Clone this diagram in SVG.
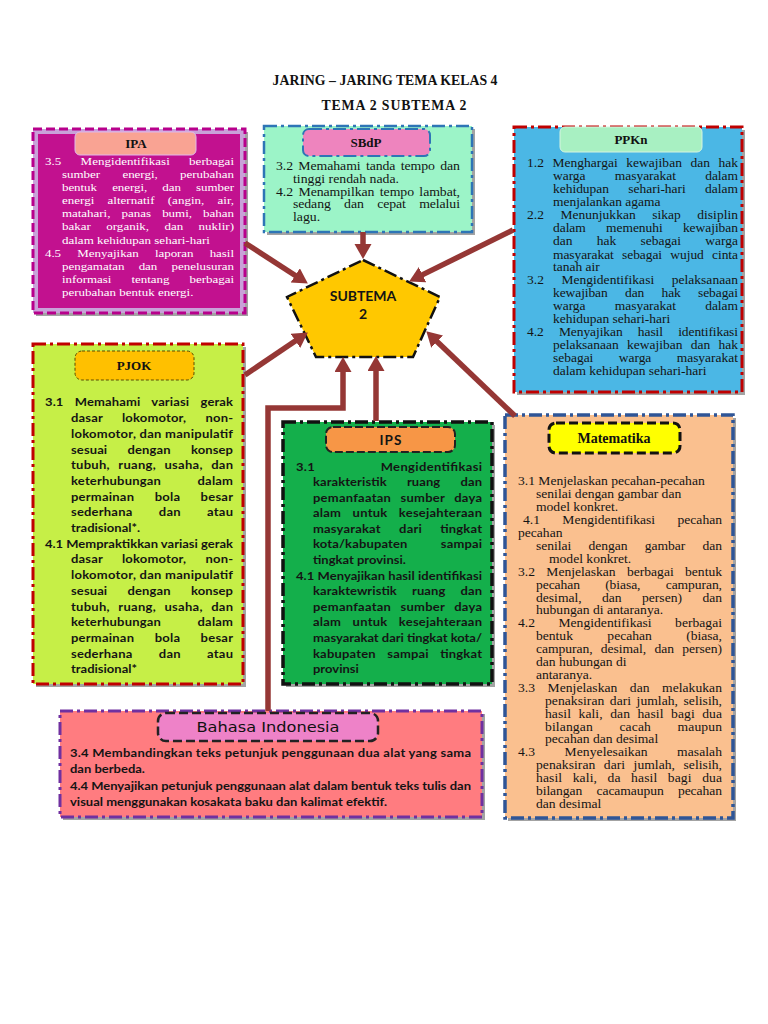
<svg xmlns="http://www.w3.org/2000/svg" width="768" height="1024" viewBox="0 0 768 1024">
<defs>
<style>
.sr{font-family:"Liberation Serif","Times New Roman",serif;fill:#141414}
.sa{font-family:Lato,"Liberation Sans",sans-serif;font-weight:700;fill:#141414}
.hd{font-family:"Liberation Serif","Times New Roman",serif;font-weight:700;fill:#111;text-anchor:middle}
.shadow{fill:#a3a3a3}
.dd{stroke-dasharray:13 4 3 4}
.conn{fill:none;stroke:#953735;stroke-width:5.5;marker-end:url(#ah)}
</style>
<marker id="ah" markerUnits="userSpaceOnUse" markerWidth="16" markerHeight="18" refX="6" refY="8.5" orient="auto">
<path d="M0,0 L15,8.5 L0,17 z" fill="#953735"/>
</marker>
</defs>
<rect width="768" height="1024" fill="#fff"/>

<g id="title">
<text class="hd" x="385" y="85" font-size="13.8" textLength="225">JARING – JARING TEMA KELAS 4</text>
<text class="hd" x="394" y="110" font-size="13.8" textLength="145">TEMA 2 SUBTEMA 2</text>
</g>

<g id="ipa">
<rect class="shadow" x="36" y="132" width="212" height="184"/>
<rect x="33" y="129" width="212" height="184" fill="#c9a1d9" stroke="#b8008c" stroke-width="3" stroke-dasharray="9 4"/>
<rect x="38" y="134" width="202" height="174" fill="#c2118f"/>
<rect x="75" y="132" width="121" height="23" rx="5" fill="#f9a393" stroke="#e0b8ea" stroke-width="1"/>
<text class="hd" x="136" y="148" font-size="13">IPA</text>
<g class="sr" font-size="13" style="fill:#fff" transform="scale(1,0.87)">
<text x="45" y="189.66" textLength="189" word-spacing="16">3.5 Mengidentifikasi berbagai</text>
<text x="62" y="204.71" textLength="172" word-spacing="19">sumber energi, perubahan</text>
<text x="62" y="219.77" textLength="172" word-spacing="12">bentuk energi, dan sumber</text>
<text x="62" y="234.83" textLength="172" word-spacing="10">energi alternatif (angin, air,</text>
<text x="62" y="249.89" textLength="172" word-spacing="8">matahari, panas bumi, bahan</text>
<text x="62" y="264.94" textLength="172" word-spacing="12">bakar organik, dan nuklir)</text>
<text x="62" y="280">dalam kehidupan sehari-hari</text>
<text x="45" y="295.06" textLength="189" word-spacing="13">4.5 Menyajikan laporan hasil</text>
<text x="62" y="310.11" textLength="172" word-spacing="11">pengamatan dan penelusuran</text>
<text x="62" y="325.17" textLength="172" word-spacing="17">informasi tentang berbagai</text>
<text x="62" y="340.23">perubahan bentuk energi.</text>
</g>
</g>

<g id="sbdp">
<rect class="shadow" x="267" y="129" width="208" height="106"/>
<rect class="dd" x="264" y="126" width="208" height="106" fill="#9cf4c8" stroke="#2e75b6" stroke-width="2.5"/>
<rect class="dd" x="303" y="129" width="127" height="27" rx="6" fill="#ee84be" stroke="#2e75b6" stroke-width="2"/>
<text class="hd" x="366" y="147" font-size="13">SBdP</text>
<g class="sr" font-size="13.8" transform="scale(1,0.87)">
<text x="276" y="195.4" textLength="184" word-spacing="2">3.2 Memahami tanda tempo dan</text>
<text x="293" y="210.11">tinggi rendah nada.</text>
<text x="276" y="224.83" textLength="184" word-spacing="2">4.2 Menampilkan tempo lambat,</text>
<text x="293" y="239.54" textLength="167" word-spacing="10">sedang dan cepat melalui</text>
<text x="293" y="254.25">lagu.</text>
</g>
</g>

<g id="ppkn">
<rect class="shadow" x="517" y="130" width="228" height="265"/>
<rect class="dd" x="514" y="127" width="228" height="265" fill="#4bb7e5" stroke="#c00000" stroke-width="3"/>
<rect x="560" y="127" width="142" height="25" rx="5" fill="#a8f0c2" stroke="#d6f5e0" stroke-width="1"/>
<text class="hd" x="631" y="144" font-size="13">PPKn</text>
<g class="sr" font-size="13.5" transform="scale(1,0.87)">
<text x="527" y="192.53" textLength="211" word-spacing="5">1.2 Menghargai kewajiban dan hak</text>
<text x="553" y="207.47" textLength="185" word-spacing="26">warga masyarakat dalam</text>
<text x="553" y="222.41" textLength="185" word-spacing="16">kehidupan sehari-hari dalam</text>
<text x="553" y="237.36">menjalankan agama</text>
<text x="527" y="252.3" textLength="211" word-spacing="13">2.2 Menunjukkan sikap disiplin</text>
<text x="553" y="267.24" textLength="185" word-spacing="17">dalam memenuhi kewajiban</text>
<text x="553" y="282.18" textLength="185" word-spacing="21">dan hak sebagai warga</text>
<text x="553" y="297.13" textLength="185" word-spacing="5">masyarakat sebagai wujud cinta</text>
<text x="553" y="312.07">tanah air</text>
<text x="527" y="327.01" textLength="211" word-spacing="14">3.2 Mengidentifikasi pelaksanaan</text>
<text x="553" y="341.95" textLength="185" word-spacing="14">kewajiban dan hak sebagai</text>
<text x="553" y="356.9" textLength="185" word-spacing="26">warga masyarakat dalam</text>
<text x="553" y="371.84">kehidupan sehari-hari</text>
<text x="527" y="386.78" textLength="211" word-spacing="12">4.2 Menyajikan hasil identifikasi</text>
<text x="553" y="401.72" textLength="185" word-spacing="5">pelaksanaan kewajiban dan hak</text>
<text x="553" y="416.67" textLength="185" word-spacing="22">sebagai warga masyarakat</text>
<text x="553" y="431.61">dalam kehidupan sehari-hari</text>
</g>
</g>

<g id="pjok">
<rect class="shadow" x="36" y="347" width="210" height="340"/>
<rect class="dd" x="33" y="344" width="210" height="340" fill="#c6ef47" stroke="#c00000" stroke-width="3"/>
<rect x="75" y="351" width="119" height="29" rx="7" fill="#ffc000" stroke="#5a4a00" stroke-width="1" stroke-dasharray="3 2"/>
<text class="hd" x="134" y="370" font-size="13">PJOK</text>
<g class="sa" font-size="13" transform="scale(1,0.9)">
<text x="45" y="451.67" textLength="188" word-spacing="8">3.1 Memahami variasi gerak</text>
<text x="71" y="469.11" textLength="162" word-spacing="16">dasar lokomotor, non-</text>
<text x="71" y="486.56" textLength="162">lokomotor, dan manipulatif</text>
<text x="71" y="504" textLength="162" word-spacing="17">sesuai dengan konsep</text>
<text x="71" y="521.44" textLength="162" word-spacing="5">tubuh, ruang, usaha, dan</text>
<text x="71" y="538.89" textLength="162" word-spacing="33">keterhubungan dalam</text>
<text x="71" y="556.33" textLength="162" word-spacing="17">permainan bola besar</text>
<text x="71" y="573.78" textLength="162" word-spacing="23">sederhana dan atau</text>
<text x="71" y="591.22">tradisional*.</text>
<text x="45" y="608.67" textLength="188">4.1 Mempraktikkan variasi gerak</text>
<text x="71" y="626.11" textLength="162" word-spacing="16">dasar lokomotor, non-</text>
<text x="71" y="643.56" textLength="162">lokomotor, dan manipulatif</text>
<text x="71" y="661" textLength="162" word-spacing="17">sesuai dengan konsep</text>
<text x="71" y="678.44" textLength="162" word-spacing="5">tubuh, ruang, usaha, dan</text>
<text x="71" y="695.89" textLength="162" word-spacing="33">keterhubungan dalam</text>
<text x="71" y="713.33" textLength="162" word-spacing="17">permainan bola besar</text>
<text x="71" y="730.78" textLength="162" word-spacing="23">sederhana dan atau</text>
<text x="71" y="748.22">tradisional*</text>
</g>
</g>

<g id="ips">
<rect class="shadow" x="286" y="425" width="209" height="262"/>
<rect class="dd" x="283" y="422" width="209" height="262" fill="#14af4b" stroke="#111" stroke-width="3.5"/>
<rect x="326" y="427" width="129" height="25" rx="7" fill="#f79646" stroke="#222" stroke-width="2" stroke-dasharray="8 3"/>
<text class="sa" x="391" y="445" font-size="13.5" text-anchor="middle" letter-spacing="1">IPS</text>
<g class="sa" font-size="13" transform="scale(1,0.9)">
<text x="296" y="522.78" textLength="186" word-spacing="62">3.1 Mengidentifikasi</text>
<text x="313" y="540.11" textLength="169" word-spacing="17">karakteristik ruang dan</text>
<text x="313" y="557.44" textLength="169" word-spacing="6">pemanfaatan sumber daya</text>
<text x="313" y="574.78" textLength="169" word-spacing="8">alam untuk kesejahteraan</text>
<text x="313" y="592.11" textLength="169" word-spacing="15">masyarakat dari tingkat</text>
<text x="313" y="609.44" textLength="169" word-spacing="30">kota/kabupaten sampai</text>
<text x="313" y="626.78">tingkat provinsi.</text>
<text x="296" y="644.11" textLength="186">4.1 Menyajikan hasil identifikasi</text>
<text x="313" y="661.44" textLength="169" word-spacing="12">karaktewristik ruang dan</text>
<text x="313" y="678.78" textLength="169" word-spacing="6">pemanfaatan sumber daya</text>
<text x="313" y="696.11" textLength="169" word-spacing="8">alam untuk kesejahteraan</text>
<text x="313" y="713.44" textLength="169">masyarakat dari tingkat kota/</text>
<text x="313" y="730.78" textLength="169" word-spacing="8">kabupaten sampai tingkat</text>
<text x="313" y="748.11">provinsi</text>
</g>
</g>

<g id="matematika">
<rect class="shadow" x="508" y="418" width="228" height="403"/>
<rect class="dd" x="505" y="415" width="228" height="403" fill="#fac08f" stroke="#2f5597" stroke-width="3.5"/>
<rect x="549" y="423" width="131" height="30" rx="7" fill="#ffff00" stroke="#111" stroke-width="3" stroke-dasharray="9 4"/>
<text class="hd" x="614" y="443" font-size="14">Matematika</text>
<g class="sr" font-size="13.6" transform="scale(1,0.87)">
<text x="518" y="558.05">3.1 Menjelaskan pecahan-pecahan</text>
<text x="536" y="572.87">senilai dengan gambar dan</text>
<text x="536" y="587.7">model konkret.</text>
<text x="523" y="602.53" textLength="199" word-spacing="19">4.1 Mengidentifikasi pecahan</text>
<text x="518" y="617.36">pecahan</text>
<text x="536" y="632.18" textLength="186" word-spacing="14">senilai dengan gambar dan</text>
<text x="549" y="647.01">model konkret.</text>
<text x="518" y="661.84" textLength="204" word-spacing="8">3.2 Menjelaskan berbagai bentuk</text>
<text x="536" y="676.67" textLength="186" word-spacing="22">pecahan (biasa, campuran,</text>
<text x="536" y="691.49" textLength="186" word-spacing="17">desimal, dan persen) dan</text>
<text x="536" y="706.32">hubungan di antaranya.</text>
<text x="518" y="721.15" textLength="204" word-spacing="20">4.2 Mengidentifikasi berbagai</text>
<text x="536" y="735.98" textLength="186" word-spacing="31">bentuk pecahan (biasa,</text>
<text x="536" y="750.8" textLength="186" word-spacing="5">campuran, desimal, dan persen)</text>
<text x="536" y="765.63">dan hubungan di</text>
<text x="536" y="780.46">antaranya.</text>
<text x="518" y="795.29" textLength="204" word-spacing="9">3.3 Menjelaskan dan melakukan</text>
<text x="545" y="810.11" textLength="177" word-spacing="2">penaksiran dari jumlah, selisih,</text>
<text x="545" y="824.94" textLength="177" word-spacing="4">hasil kali, dan hasil bagi dua</text>
<text x="545" y="839.77" textLength="177" word-spacing="23">bilangan cacah maupun</text>
<text x="545" y="854.6">pecahan dan desimal</text>
<text x="518" y="869.42" textLength="204" word-spacing="26">4.3 Menyelesaikan masalah</text>
<text x="536" y="884.25" textLength="186" word-spacing="5">penaksiran dari jumlah, selisih,</text>
<text x="536" y="899.08" textLength="186" word-spacing="7">hasil kali, da hasil bagi dua</text>
<text x="536" y="913.91" textLength="186" word-spacing="11">bilangan cacamaupun pecahan</text>
<text x="536" y="928.74">dan desimal</text>
</g>
</g>

<g id="bahasa-indonesia">
<rect class="shadow" x="63" y="714" width="422" height="106"/>
<rect class="dd" x="60" y="711" width="422" height="106" fill="#ff7c80" stroke="#7030a0" stroke-width="3"/>
<rect x="158" y="713" width="220" height="28" rx="8" fill="#ee82c8" stroke="#222" stroke-width="2.5" stroke-dasharray="9 4"/>
<text x="268" y="732" font-family="'DejaVu Sans','Liberation Sans',sans-serif" font-size="13.5" fill="#111" text-anchor="middle" textLength="143" lengthAdjust="spacingAndGlyphs">Bahasa Indonesia</text>
<g class="sa" font-size="13" transform="scale(1,0.9)">
<text x="70" y="841.67" textLength="401">3.4 Membandingkan teks petunjuk penggunaan dua alat yang sama</text>
<text x="70" y="859.44">dan berbeda.</text>
<text x="70" y="877.78" textLength="401">4.4 Menyajikan petunjuk penggunaan alat dalam bentuk teks tulis dan</text>
<text x="70" y="895.56">visual menggunakan kosakata baku dan kalimat efektif.</text>
</g>
</g>

<g id="subtema">
<polygon points="363,260 440,297 413,357 316,357 287,297" fill="#ffc800" stroke="#111" stroke-width="2.5" stroke-dasharray="13 4 3 4"/>
<text class="sa" x="363" y="301" font-size="14" text-anchor="middle" fill="#111">SUBTEMA</text>
<text class="sa" x="363" y="319" font-size="14" text-anchor="middle" fill="#111">2</text>
</g>

<g id="connectors">
<line class="conn" x1="245" y1="243" x2="300.3" y2="278.7"/>
<line class="conn" x1="363" y1="232" x2="363" y2="250"/>
<line class="conn" x1="513" y1="230" x2="417.2" y2="277.4"/>
<line class="conn" x1="245" y1="375" x2="300.4" y2="337.5"/>
<line class="conn" x1="515" y1="416" x2="432.8" y2="337.5"/>
<line class="conn" x1="376" y1="421" x2="376" y2="365"/>
<polyline class="conn" points="268,711 268,408 343,408 343,366"/>
</g>
</svg>
